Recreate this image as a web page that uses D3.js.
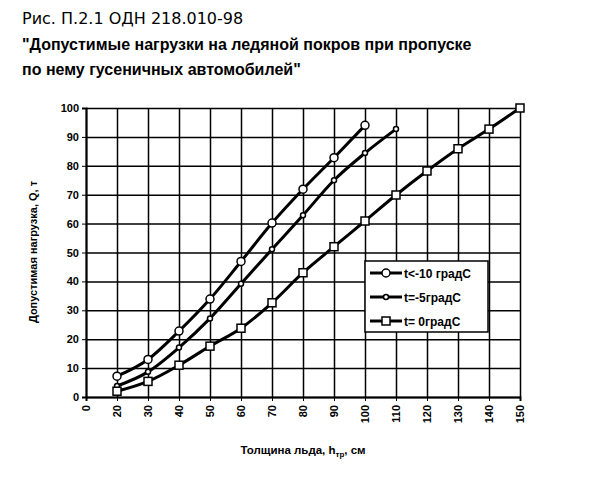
<!DOCTYPE html>
<html><head><meta charset="utf-8">
<script src="https://cdn.jsdelivr.net/npm/d3@7"></script>
<style>body{margin:0;background:#fff}text{font-family:"Liberation Sans",Arial,sans-serif}</style>
</head><body>
<script>
// categories on the x axis (evenly spaced, no 10)
var thickness = [0, 20, 30, 40, 50, 60, 70, 80, 90, 100, 110, 120, 130, 140, 150];
var yTicks = [0, 10, 20, 30, 40, 50, 60, 70, 80, 90, 100];
var xS1 = [20, 30, 40, 50, 60, 70, 80, 90, 100];
var s1 = [7.2, 13, 22.8, 33.9, 46.9, 60.2, 71.9, 82.8, 94];
var xS2 = [20, 30, 40, 50, 60, 70, 80, 90, 100, 110];
var s2 = [3.8, 8.7, 17.1, 27.2, 39.2, 51.1, 62.9, 75, 84.4, 92.7];
var xS3 = [20, 30, 40, 50, 60, 70, 80, 90, 100, 110, 120, 130, 140, 150];
var s3 = [2, 5.4, 11, 17.6, 23.8, 32.6, 43, 52, 60.9, 69.9, 78.2, 85.9, 92.7, 100];
var names = ["t<-10 градС", "t=-5градС", "t= 0градС"];

var svg = d3.select("body").append("svg").attr("width", 590).attr("height", 487);

svg.append("text").attr("x", 22).attr("y", 24).attr("font-size", "16px")
	.style("font-family", "DejaVu Sans").text("Рис. П.2.1 ОДН 218.010-98");
svg.append("text").attr("x", 22).attr("y", 50).attr("font-size", "16px").attr("font-weight", "bold")
	.text("\"Допустимые нагрузки на ледяной покров при пропуске");
svg.append("text").attr("x", 22).attr("y", 75).attr("font-size", "16px").attr("font-weight", "bold")
	.text("по нему гусеничных автомобилей\"");

var x = d3.scalePoint().domain(thickness).range([86, 520]);
var y = d3.scaleLinear().domain([0, 100]).range([397, 108]);

// grid via axes
var gx = svg.append("g").attr("transform", "translate(0,108)")
	.call(d3.axisBottom(x).tickSize(289).tickFormat(""));
var gy = svg.append("g").attr("transform", "translate(520,0)")
	.call(d3.axisLeft(y).tickValues(yTicks).tickSize(434).tickFormat(""));
[gx, gy].forEach(function (g) {
	g.select(".domain").remove();
	g.selectAll("line").attr("stroke", "#000").attr("stroke-width", 1.5);
});

var yAxis = svg.append("g").attr("transform", "translate(86,0)")
	.call(d3.axisLeft(y).tickValues(yTicks).tickSize(4));
yAxis.select(".domain").attr("stroke-width", 2);
yAxis.selectAll("text").attr("font-size", "11px").attr("font-weight", "bold")
	.style("font-family", "Liberation Sans");

var xAxis = svg.append("g").attr("transform", "translate(0,397)")
	.call(d3.axisBottom(x).tickSize(4));
xAxis.select(".domain").attr("stroke-width", 2);
xAxis.selectAll("text").attr("font-size", "11px").attr("font-weight", "bold")
	.style("font-family", "Liberation Sans")
	.attr("transform", "rotate(-90)").attr("text-anchor", "end")
	.attr("x", -8).attr("y", 0).attr("dy", "0.35em");

svg.append("text").attr("x", 303).attr("y", 454).attr("text-anchor", "middle")
	.attr("font-size", "11.5px").attr("font-weight", "bold")
	.html("Толщина льда, h<tspan font-size='8px' dy='3'>тр</tspan><tspan dy='-3'>, см</tspan>");
svg.append("text").attr("transform", "translate(37,252) rotate(-90)").attr("text-anchor", "middle")
	.attr("font-size", "11px").attr("font-weight", "bold").text("Допустимая нагрузка, Q, т");

var line = d3.line().x(d => x(d[0])).y(d => y(d[1])).curve(d3.curveMonotoneX);
var series = [d3.zip(xS1, s1), d3.zip(xS2, s2), d3.zip(xS3, s3)];
var shapes = ["circle", "diamond", "square"];

function marker(g, shape, cx, cy) {
	if (shape == "circle") g.append("circle").attr("cx", cx).attr("cy", cy).attr("r", 4);
	else if (shape == "diamond") g.append("circle").attr("cx", cx).attr("cy", cy).attr("r", 2.5);
	else g.append("rect").attr("x", cx - 4).attr("y", cy - 4).attr("width", 8).attr("height", 8);
}

series.forEach(function (data, i) {
	svg.append("path").datum(data).attr("d", line).attr("fill", "none")
		.attr("stroke", "#000").attr("stroke-width", 3);
	var g = svg.append("g").attr("fill", "#fff").attr("stroke", "#000").attr("stroke-width", 1.5);
	data.forEach(function (d) { marker(g, shapes[i], x(d[0]), y(d[1])); });
});

// legend
var lg = svg.append("g");
lg.append("rect").attr("x", 365).attr("y", 261).attr("width", 123).attr("height", 71)
	.attr("fill", "#fff").attr("stroke", "#000").attr("stroke-width", 1.5);
names.forEach(function (n, i) {
	var ly = 273 + i * 24;
	lg.append("line").attr("x1", 370).attr("x2", 402).attr("y1", ly).attr("y2", ly)
		.attr("stroke", "#000").attr("stroke-width", 3);
	var g = lg.append("g").attr("fill", "#fff").attr("stroke", "#000").attr("stroke-width", 1.5);
	marker(g, shapes[i], 386, ly);
	lg.append("text").attr("x", 404).attr("y", ly + 4.5).attr("font-size", "12px")
		.attr("font-weight", "bold").text(n);
});
</script>
</body></html>
